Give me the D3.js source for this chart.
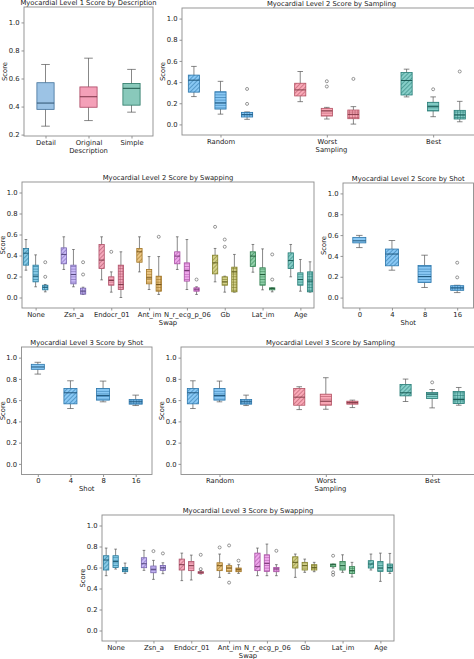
<!DOCTYPE html>
<html>
<head>
<meta charset="utf-8">
<script src="https://cdn.jsdelivr.net/npm/d3@7"></script>
<style>
body { margin: 0; background: #fff; }
svg { display: block; font-family: "DejaVu Sans", sans-serif; }
</style>
</head>
<body>
<svg id="chart" width="474" height="659"></svg>
<script>
// box stats are [whisker low, q1, median, q3, whisker high]

// Level 1 by description
const descCats = ["Detail", "Original", "Simple"];
const descBoxes = [
    [0.26, 0.38, 0.425, 0.57, 0.70],
    [0.30, 0.395, 0.47, 0.54, 0.745],
    [0.36, 0.41, 0.53, 0.565, 0.665]
];

// shots
const shotCats = ["0", "4", "8", "16"];
const l2Shot = [
    [0.48, 0.525, 0.545, 0.578, 0.597],
    [0.263, 0.305, 0.418, 0.466, 0.548],
    [0.097, 0.145, 0.202, 0.309, 0.407],
    [0.048, 0.07, 0.092, 0.114, 0.118]
];
const l2ShotOut = [[], [], [], [0.335, 0.194]];
const l3Shot = [
    [0.845, 0.89, 0.912, 0.937, 0.956],
    [0.521, 0.565, 0.669, 0.71, 0.782],
    [0.584, 0.6, 0.644, 0.71, 0.779],
    [0.549, 0.562, 0.584, 0.606, 0.647]
];
const l3ShotOut = [[], [], [], []];

// sampling (boxes inside each group = shot 4, 8, 16)
const samplingCats = ["Random", "Worst", "Best"];
const l2Sampling = [
    [[0.263, 0.305, 0.418, 0.466, 0.548], [0.097, 0.145, 0.202, 0.309, 0.407], [0.048, 0.07, 0.092, 0.114, 0.118]],
    [[0.215, 0.269, 0.326, 0.389, 0.5], [0.051, 0.079, 0.127, 0.152, 0.161], [0.003, 0.054, 0.095, 0.136, 0.168]],
    [[0.26, 0.278, 0.415, 0.49, 0.522], [0.073, 0.127, 0.168, 0.209, 0.26], [0.025, 0.051, 0.089, 0.133, 0.218]]
];
const l2SamplingOut = [
    [[], [], [0.335, 0.194]],
    [[], [0.408, 0.358], [0.43]],
    [[], [0.332], [0.5]]
];
const l3Sampling = [
    [[0.521, 0.565, 0.669, 0.71, 0.782], [0.584, 0.6, 0.644, 0.71, 0.779], [0.549, 0.562, 0.584, 0.606, 0.647]],
    [[0.511, 0.552, 0.628, 0.71, 0.726], [0.514, 0.552, 0.59, 0.656, 0.811], [0.53, 0.562, 0.577, 0.59, 0.6]],
    [[0.587, 0.64, 0.669, 0.748, 0.798], [0.527, 0.615, 0.656, 0.672, 0.7], [0.552, 0.568, 0.606, 0.681, 0.719]]
];
const l3SamplingOut = [
    [[], [], []],
    [[], [], []],
    [[], [0.767], []]
];

// swapping
const swapCats = ["None", "Zsn_a", "Endocr_01", "Ant_im", "N_r_ecg_p_06", "Gb", "Lat_im", "Age"];
const l2Swap = [
    [[0.26, 0.308, 0.422, 0.467, 0.552], [0.102, 0.149, 0.203, 0.308, 0.406], [0.054, 0.073, 0.098, 0.117, 0.124]],
    [[0.267, 0.321, 0.41, 0.473, 0.578], [0.102, 0.13, 0.219, 0.308, 0.457], [0.029, 0.032, 0.06, 0.089, 0.098]],
    [[0.168, 0.276, 0.356, 0.505, 0.578], [0.051, 0.117, 0.162, 0.197, 0.244], [0.0, 0.076, 0.124, 0.308, 0.435]],
    [[0.244, 0.336, 0.435, 0.467, 0.578], [0.076, 0.13, 0.187, 0.267, 0.39], [0.029, 0.06, 0.124, 0.203, 0.39]],
    [[0.267, 0.321, 0.394, 0.435, 0.578], [0.076, 0.156, 0.257, 0.33, 0.552], [0.029, 0.06, 0.079, 0.092, 0.102]],
    [[0.149, 0.225, 0.33, 0.403, 0.467], [0.051, 0.117, 0.149, 0.197, 0.203], [0.051, 0.054, 0.244, 0.289, 0.41]],
    [[0.241, 0.295, 0.394, 0.435, 0.505], [0.073, 0.117, 0.219, 0.283, 0.463], [0.054, 0.073, 0.086, 0.092, 0.092]],
    [[0.197, 0.276, 0.352, 0.425, 0.505], [0.06, 0.117, 0.171, 0.235, 0.362], [0.051, 0.054, 0.156, 0.244, 0.34]]
];
const l2SwapOut = [
    [[], [], [0.336, 0.197]],
    [[], [], [0.336, 0.219]],
    [[], [0.435], []],
    [[], [], [0.578]],
    [[], [], [0.171]],
    [[0.673], [0.552, 0.483], []],
    [[], [], [0.41, 0.171]],
    [[], [], []]
];
const l3Swap = [
    [[0.522, 0.576, 0.671, 0.712, 0.785], [0.585, 0.601, 0.658, 0.712, 0.775], [0.544, 0.56, 0.579, 0.601, 0.642]],
    [[0.573, 0.598, 0.636, 0.693, 0.763], [0.487, 0.55, 0.582, 0.614, 0.668], [0.541, 0.573, 0.598, 0.62, 0.645]],
    [[0.475, 0.576, 0.627, 0.68, 0.737], [0.481, 0.57, 0.617, 0.658, 0.718], [0.538, 0.544, 0.554, 0.56, 0.57]],
    [[0.506, 0.57, 0.617, 0.645, 0.728], [0.544, 0.563, 0.595, 0.617, 0.633], [0.544, 0.56, 0.579, 0.595, 0.627]],
    [[0.522, 0.57, 0.608, 0.737, 0.785], [0.522, 0.563, 0.639, 0.721, 0.823], [0.522, 0.56, 0.585, 0.601, 0.627]],
    [[0.506, 0.595, 0.649, 0.702, 0.728], [0.554, 0.576, 0.617, 0.649, 0.68], [0.56, 0.576, 0.601, 0.627, 0.649]],
    [[0.595, 0.608, 0.627, 0.633, 0.633], [0.554, 0.576, 0.617, 0.658, 0.721], [0.51, 0.544, 0.57, 0.608, 0.649]],
    [[0.576, 0.595, 0.633, 0.665, 0.728], [0.468, 0.563, 0.595, 0.658, 0.737], [0.544, 0.563, 0.601, 0.633, 0.734]]
];
const l3SwapOut = [
    [[], [], []],
    [[], [0.756], [0.734]],
    [[], [], [0.721, 0.585]],
    [[0.791], [0.81, 0.456], [0.665]],
    [[], [], [0.759]],
    [[], [], []],
    [[0.712, 0.554, 0.53], [], []],
    [[], [], []]
];

const descColors = ["#5a9bd4", "#ed6189", "#3aa58d"];
const samplingColors = ["#3ba3ec", "#f77189", "#36ada4"];
const swapColors = ["#35a6d6", "#a48bf0", "#f07090", "#dea032", "#e66ee0", "#b4b03a", "#45b070", "#36ada4"];
const hatches = ["diag", "horiz", "grid"];

const svg = d3.select("#chart");
const FS = 6.8;
const defs = svg.append("defs");
const hatchIds = {};

function hatchFill(color, type) {
    const key = type + color;
    if (hatchIds[key]) return hatchIds[key];
    const id = "h" + Object.keys(hatchIds).length;
    hatchIds[key] = id;
    const st = d3.color(color).darker(1).formatHex();
    let p;
    if (type == "diag") {
        p = defs.append("pattern").attr("id", id).attr("patternUnits", "userSpaceOnUse")
            .attr("width", 3).attr("height", 3).attr("patternTransform", "rotate(45)");
        p.append("line").attr("x1", 1.5).attr("y1", 0).attr("x2", 1.5).attr("y2", 3);
    } else if (type == "horiz") {
        p = defs.append("pattern").attr("id", id).attr("patternUnits", "userSpaceOnUse")
            .attr("width", 4).attr("height", 2.6);
        p.append("line").attr("x1", 0).attr("y1", 1.3).attr("x2", 4).attr("y2", 1.3);
    } else {
        p = defs.append("pattern").attr("id", id).attr("patternUnits", "userSpaceOnUse")
            .attr("width", 2.7).attr("height", 2.7);
        p.append("line").attr("x1", 0).attr("y1", 1.35).attr("x2", 2.7).attr("y2", 1.35);
        p.append("line").attr("x1", 1.35).attr("y1", 0).attr("x2", 1.35).attr("y2", 2.7);
    }
    p.selectAll("line").attr("stroke", st).attr("stroke-width", 0.6).attr("stroke-opacity", 0.9);
    return id;
}

function panel(cfg) {
    const x = d3.scaleLinear().domain(cfg.xdom).range([cfg.left, cfg.right]);
    const y = d3.scaleLinear().domain(cfg.ydom).range([cfg.bottom, cfg.top]);
    const g = svg.append("g");

    const yAxis = g.append("g")
        .attr("transform", `translate(${cfg.left},0)`)
        .call(d3.axisLeft(y).tickValues(cfg.yticks).tickFormat(d3.format(".1f")).tickSize(2.5).tickPadding(2));
    const xAxis = g.append("g")
        .attr("transform", `translate(0,${cfg.bottom})`)
        .call(d3.axisBottom(x).tickValues(d3.range(cfg.cats.length)).tickFormat(i => cfg.cats[i]).tickSize(2.5).tickPadding(1.5));
    [xAxis, yAxis].forEach(a => {
        a.select(".domain").remove();
        a.selectAll("line").attr("stroke", "#666").attr("stroke-width", 0.7);
        a.selectAll("text").attr("font-size", FS).attr("fill", "#222").attr("font-family", "DejaVu Sans");
    });

    // frame
    g.append("rect")
        .attr("x", cfg.left).attr("y", cfg.top)
        .attr("width", cfg.right - cfg.left).attr("height", cfg.bottom - cfg.top)
        .attr("fill", "none").attr("stroke", "#8c8c8c").attr("stroke-width", 0.9);

    g.append("text")
        .attr("x", (cfg.left + cfg.right) / 2).attr("y", cfg.top - 2.3)
        .attr("text-anchor", "middle").attr("font-size", FS).attr("fill", "#222")
        .text(cfg.title);
    g.append("text")
        .attr("x", (cfg.left + cfg.right) / 2).attr("y", cfg.bottom + 16.5)
        .attr("text-anchor", "middle").attr("font-size", FS).attr("fill", "#222")
        .text(cfg.xlabel);
    g.append("text")
        .attr("transform", `translate(${cfg.left - 16.6},${(cfg.top + cfg.bottom) / 2}) rotate(-90)`)
        .attr("text-anchor", "middle").attr("font-size", FS).attr("fill", "#222")
        .text("Score");

    return { g: g.append("g"), x: x, y: y };
}

function drawBox(p, pos, w, s, outs, color, hatchType) {
    const x = p.x, y = p.y, g = p.g;
    const x0 = x(pos - w / 2), x1 = x(pos + w / 2), xc = x(pos);
    const cw = (x1 - x0) / 4;
    const edge = d3.color(color).darker(0.9).formatHex();
    const line = "#555";

    g.append("line").attr("x1", xc).attr("x2", xc).attr("y1", y(s[0])).attr("y2", y(s[1]))
        .attr("stroke", line).attr("stroke-width", 0.7);
    g.append("line").attr("x1", xc).attr("x2", xc).attr("y1", y(s[3])).attr("y2", y(s[4]))
        .attr("stroke", line).attr("stroke-width", 0.7);
    [s[0], s[4]].forEach(v => {
        g.append("line").attr("x1", xc - cw).attr("x2", xc + cw).attr("y1", y(v)).attr("y2", y(v))
            .attr("stroke", line).attr("stroke-width", 0.7);
    });

    const bx = { x: x0, y: y(s[3]), w: x1 - x0, h: Math.max(0.6, y(s[1]) - y(s[3])) };
    g.append("rect").attr("x", bx.x).attr("y", bx.y).attr("width", bx.w).attr("height", bx.h)
        .attr("fill", color).attr("fill-opacity", 0.6);
    if (hatchType) {
        g.append("rect").attr("x", bx.x).attr("y", bx.y).attr("width", bx.w).attr("height", bx.h)
            .attr("fill", `url(#${hatchFill(color, hatchType)})`);
    }
    g.append("rect").attr("x", bx.x).attr("y", bx.y).attr("width", bx.w).attr("height", bx.h)
        .attr("fill", "none").attr("stroke", edge).attr("stroke-width", 0.8);
    g.append("line").attr("x1", x0).attr("x2", x1).attr("y1", y(s[2])).attr("y2", y(s[2]))
        .attr("stroke", d3.color(color).darker(1.8).formatHex()).attr("stroke-width", 1);

    outs.forEach(v => {
        g.append("circle").attr("cx", xc).attr("cy", y(v)).attr("r", 1.5)
            .attr("fill", "none").attr("stroke", "#555").attr("stroke-width", 0.6);
    });
}

const yt0 = [0, 0.2, 0.4, 0.6, 0.8, 1.0];

// Level 1 by description
let p = panel({ left: 24, right: 153, top: 7, bottom: 136, xdom: [-0.5, 2.5], ydom: [0.19, 1.11],
    yticks: [0.2, 0.4, 0.6, 0.8, 1.0], cats: descCats, title: "Myocardial Level 1 Score by Description", xlabel: "Description" });
descBoxes.forEach((b, i) => drawBox(p, i, 0.4, b, [], descColors[i], null));

// Level 2 by sampling
p = panel({ left: 182, right: 481, top: 8, bottom: 135, xdom: [-0.362, 2.45], ydom: [-0.1, 1.1],
    yticks: yt0, cats: samplingCats, title: "Myocardial Level 2 Score by Sampling", xlabel: "Sampling" });
l2Sampling.forEach((grp, i) => grp.forEach((b, j) =>
    drawBox(p, i + (j - 1) * 0.25, 0.105, b, l2SamplingOut[i][j], samplingColors[i], hatches[j])));

// Level 2 by swapping
p = panel({ left: 22, right: 314, top: 182, bottom: 308, xdom: [-0.36, 7.36], ydom: [-0.1, 1.1],
    yticks: yt0, cats: swapCats, title: "Myocardial Level 2 Score by Swapping", xlabel: "Swap" });
l2Swap.forEach((grp, i) => grp.forEach((b, j) =>
    drawBox(p, i + (j - 1) * 0.255, 0.14, b, l2SwapOut[i][j], swapColors[i], hatches[j])));

// Level 2 by shot
p = panel({ left: 343, right: 473.5, top: 183, bottom: 308, xdom: [-0.5, 3.5], ydom: [-0.1, 1.1],
    yticks: yt0, cats: shotCats, title: "Myocardial Level 2 Score by Shot", xlabel: "Shot" });
l2Shot.forEach((b, i) => drawBox(p, i, 0.4, b, l2ShotOut[i], samplingColors[0], i == 0 ? null : hatches[i - 1]));

// Level 3 by shot
p = panel({ left: 21.5, right: 152, top: 347, bottom: 474.5, xdom: [-0.5, 3.5], ydom: [-0.1, 1.1],
    yticks: yt0, cats: shotCats, title: "Myocardial Level 3 Score by Shot", xlabel: "Shot" });
l3Shot.forEach((b, i) => drawBox(p, i, 0.4, b, l3ShotOut[i], samplingColors[0], i == 0 ? null : hatches[i - 1]));

// Level 3 by sampling
p = panel({ left: 181, right: 480, top: 347, bottom: 474.5, xdom: [-0.362, 2.45], ydom: [-0.1, 1.1],
    yticks: yt0, cats: samplingCats, title: "Myocardial Level 3 Score by Sampling", xlabel: "Sampling" });
l3Sampling.forEach((grp, i) => grp.forEach((b, j) =>
    drawBox(p, i + (j - 1) * 0.25, 0.105, b, l3SamplingOut[i][j], samplingColors[i], hatches[j])));

// Level 3 by swapping
p = panel({ left: 102, right: 394, top: 515, bottom: 641, xdom: [-0.36, 7.36], ydom: [-0.1, 1.1],
    yticks: yt0, cats: swapCats, title: "Myocardial Level 3 Score by Swapping", xlabel: "Swap" });
l3Swap.forEach((grp, i) => grp.forEach((b, j) =>
    drawBox(p, i + (j - 1) * 0.25, 0.14, b, l3SwapOut[i][j], swapColors[i], hatches[j])));
</script>
</body>
</html>
